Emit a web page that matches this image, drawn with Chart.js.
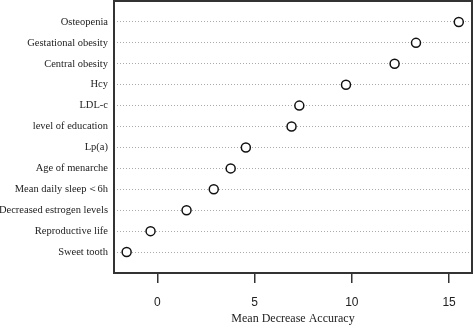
<!DOCTYPE html>
<html>
<head>
<meta charset="utf-8">
<script src="https://cdn.jsdelivr.net/npm/chart.js@4"></script>
<style>
  html, body { margin: 0; padding: 0; background: #fff; }
  #wrap { width: 474px; height: 326px; }
</style>
</head>
<body>
<div id="wrap"><canvas id="chart" width="474" height="326"></canvas></div>
<script>
// variable importance, top row first
const features = [
  "Osteopenia",
  "Gestational obesity",
  "Central obesity",
  "Hcy",
  "LDL-c",
  "level of education",
  "Lp(a)",
  "Age of menarche",
  "Mean daily sleep\uFF1C6h",
  "Decreased estrogen levels",
  "Reproductive life",
  "Sweet tooth",
];
const accuracy = [15.5, 13.3, 12.2, 9.7, 7.3, 6.9, 4.55, 3.77, 2.9, 1.5, -0.35, -1.58];
const xTicks = [0, 5, 10, 15];

const serif = "'Liberation Serif', 'Times New Roman', serif";
const sans = "'Liberation Sans', Arial, sans-serif";

// rows are numbered 1..n so the y scale can leave a blank row above and below
const points = accuracy.map((v, i) => ({ x: v, y: i + 1 }));
const isRow = (v) => v >= 1 && v <= features.length;

const frame = {
  id: "frame",
  afterDraw(chart) {
    const { ctx, chartArea: a } = chart;
    ctx.save();
    ctx.strokeStyle = "#333";
    ctx.lineWidth = 2;
    ctx.strokeRect(a.left, a.top, a.right - a.left, a.bottom - a.top);
    ctx.restore();
  },
};

new Chart(document.getElementById("chart").getContext("2d"), {
  type: "scatter",
  data: {
    datasets: [
      {
        data: points,
        pointRadius: 4.5,
        pointBorderWidth: 1.5,
        pointBorderColor: "#111",
        pointBackgroundColor: "#fff",
      },
    ],
  },
  options: {
    responsive: false,
    animation: false,
    layout: { autoPadding: false, padding: { top: 1, right: 2, left: 0, bottom: 0 } },
    plugins: { legend: { display: false }, tooltip: { enabled: false } },
    scales: {
      x: {
        type: "linear",
        min: -2.23,
        max: 16.18,
        afterBuildTicks: (scale) => {
          scale.ticks = xTicks.map((v) => ({ value: v }));
        },
        afterFit: (scale) => {
          scale.height = 53;
        },
        border: { display: false },
        grid: {
          drawOnChartArea: false,
          drawTicks: true,
          tickLength: 10,
          color: "#333",
          lineWidth: 1.5,
        },
        ticks: {
          color: "#222",
          padding: 12,
          font: { family: sans, size: 12 },
        },
        title: {
          display: true,
          text: "Mean Decrease Accuracy",
          color: "#222",
          padding: { top: 0, bottom: 0 },
          font: { family: serif, size: 12 },
        },
      },
      y: {
        type: "linear",
        reverse: true,
        min: 0,
        max: features.length + 1,
        afterBuildTicks: (scale) => {
          const t = [];
          for (let v = 0; v <= features.length + 1; v++) t.push({ value: v });
          scale.ticks = t;
        },
        afterFit: (scale) => {
          scale.width = 114;
          scale.paddingTop = 0;
          scale.paddingBottom = 0;
        },
        border: { display: false, dash: [1, 2] },
        grid: {
          drawTicks: false,
          color: (c) => (isRow(c.tick.value) ? "#aaa" : "rgba(0,0,0,0)"),
          lineWidth: 1,
        },
        ticks: {
          color: "#222",
          padding: 6,
          font: { family: serif, size: 10.5 },
          callback: (v) => (isRow(v) ? features[v - 1] : null),
        },
      },
    },
  },
  plugins: [frame],
});
</script>
</body>
</html>
